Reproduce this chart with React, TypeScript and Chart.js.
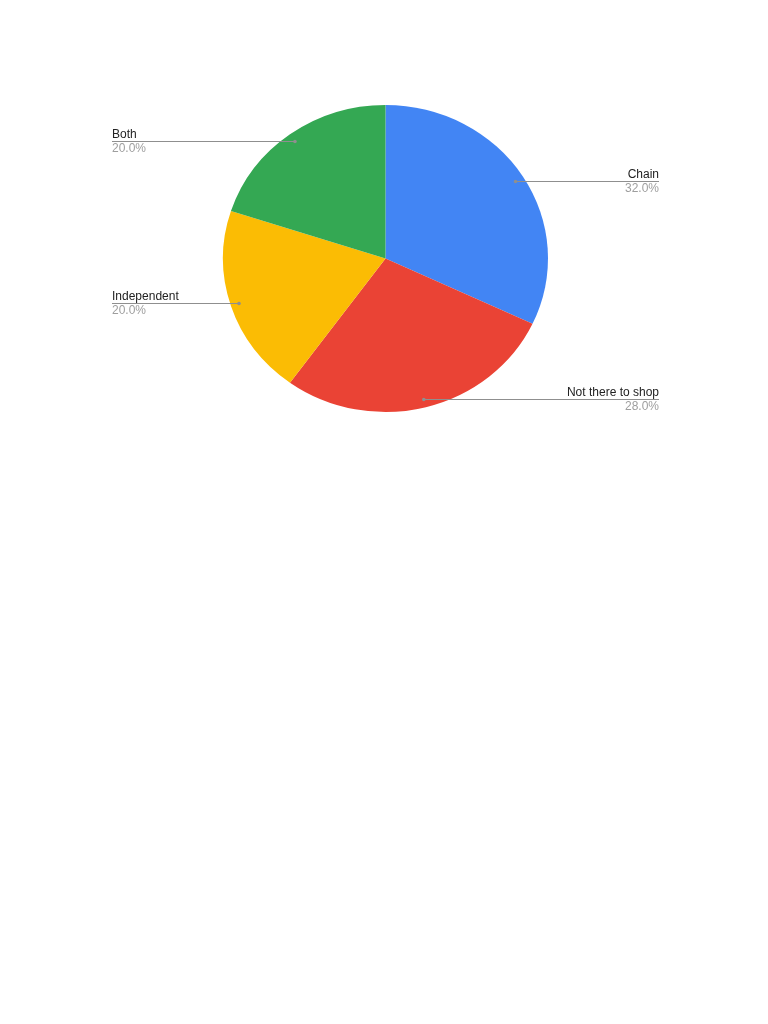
import React, { useEffect, useRef } from "react";
import { Chart, registerables } from "chart.js";

Chart.register(...registerables);

const categories = ["Chain", "Not there to shop", "Independent", "Both"];
const values = [32, 28, 20, 20];
const colors = ["#4285F4", "#EA4335", "#FBBC04", "#34A853"];

const Y_SQUASH = 153.5 / 162.5;

const squashPlugin = {
  id: "squash",
  beforeDatasetsDraw(chart: any) {
    const meta = chart.getDatasetMeta(0);
    const arc = meta.data[0];
    if (!arc) return;
    const ctx = chart.ctx;
    ctx.save();
    ctx.translate(arc.x, arc.y);
    ctx.scale(1, Y_SQUASH);
    ctx.translate(-arc.x, -arc.y);
  },
  afterDatasetsDraw(chart: any) {
    chart.ctx.restore();
  },
};

const labelPlugin = {
  id: "outLabels",
  afterDraw(chart: any) {
    const ctx = chart.ctx;
    const meta = chart.getDatasetMeta(0);
    const total = values.reduce((a, b) => a + b, 0);
    const leftX = 112;
    const rightX = 659;
    meta.data.forEach((arc: any, i: number) => {
      const mid = (arc.startAngle + arc.endAngle) / 2;
      const r = arc.outerRadius * 0.948;
      const dx = arc.x + Math.cos(mid) * r;
      const dy = arc.y + Math.sin(mid) * r * Y_SQUASH;
      const left = dx < arc.x;
      const lx = left ? leftX : rightX;
      const ly = Math.round(dy) + 0.5;
      ctx.save();
      ctx.strokeStyle = "#8f8f8f";
      ctx.lineWidth = 1;
      ctx.beginPath();
      ctx.moveTo(dx, ly);
      ctx.lineTo(lx, ly);
      ctx.stroke();
      ctx.fillStyle = "#8f8f8f";
      ctx.beginPath();
      ctx.arc(dx, ly, 1.8, 0, Math.PI * 2);
      ctx.fill();
      ctx.font = "12px 'Liberation Sans', Arial, sans-serif";
      ctx.textAlign = left ? "left" : "right";
      ctx.textBaseline = "alphabetic";
      ctx.fillStyle = "#222222";
      ctx.fillText(categories[i], lx, Math.round(dy) - 3);
      ctx.fillStyle = "#9e9e9e";
      const pct = ((values[i] / total) * 100).toFixed(1) + "%";
      ctx.fillText(pct, lx, Math.round(dy) + 11);
      ctx.restore();
    });
  },
};

export default function App() {
  const ref = useRef<HTMLCanvasElement>(null);
  useEffect(() => {
    if (!ref.current) return;
    const chart = new Chart(ref.current, {
      type: "pie",
      data: {
        labels: categories,
        datasets: [
          {
            data: values,
            backgroundColor: colors,
            borderWidth: 0,
          },
        ],
      },
      options: {
        animation: false,
        responsive: false,
        maintainAspectRatio: false,
        layout: { padding: { left: 223, right: 220, top: 96, bottom: 49 } },
        plugins: {
          legend: { display: false },
          tooltip: { enabled: false },
        },
      },
      plugins: [squashPlugin, labelPlugin],
    });
    return () => chart.destroy();
  }, []);
  return (
    <div style={{ position: "absolute", left: 0, top: 0, width: 768, height: 470, background: "#ffffff" }}>
      <canvas ref={ref} width={768} height={470} style={{ width: 768, height: 470, display: "block" }} />
    </div>
  );
}
